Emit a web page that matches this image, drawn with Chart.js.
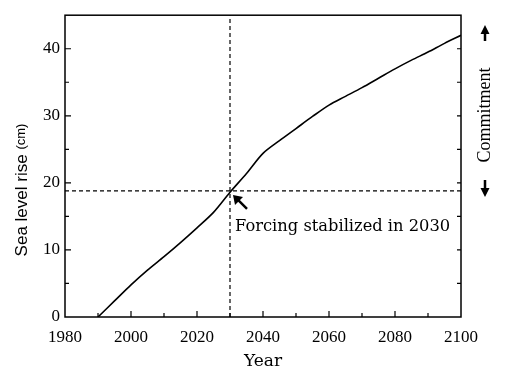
<!DOCTYPE html>
<html>
<head>
<meta charset="utf-8">
<script src="https://cdn.jsdelivr.net/npm/chart.js@4"></script>
<style>
  html, body { margin: 0; padding: 0; background: #fff; }
</style>
</head>
<body>
<canvas id="myChart" width="507" height="383"></canvas>
<script>
// Sea level rise curve
const years = [1990, 1995, 2000, 2005, 2010, 2015, 2020, 2025, 2030, 2035, 2040, 2045,
  2050, 2055, 2060, 2065, 2070, 2075, 2080, 2085, 2090, 2095, 2100];
const seaLevel = [0, 2.4, 4.8, 7.0, 9.0, 11.1, 13.3, 15.6, 18.6, 21.4, 24.4, 26.3,
  28.1, 29.9, 31.6, 32.9, 34.2, 35.6, 37.0, 38.3, 39.5, 40.8, 42.0];

// reference lines
const forcingYear = 2030;
const forcingLevel = 18.8;

const xTicks = [1980, 2000, 2020, 2040, 2060, 2080, 2100];
const yTicks = [0, 10, 20, 30, 40];
const xRange = [1980, 2100];
const yRange = [0, 45];

const serif = '"Liberation Serif", "DejaVu Serif", serif';
const wideSerif = '"DejaVu Serif", serif';

function zipxy(xs, ys) {
  const out = [];
  for (let i = 0; i < xs.length; i++) out.push({x: xs[i], y: ys[i]});
  return out;
}

// Box, inward ticks, titles and the annotations
const decorations = {
  id: 'decorations',
  afterDraw(chart) {
    const {ctx, chartArea: a, scales: {x, y}} = chart;
    ctx.save();
    ctx.strokeStyle = '#000';
    ctx.fillStyle = '#000';
    ctx.lineWidth = 1.5;
    ctx.strokeRect(a.left, a.top, a.right - a.left, a.bottom - a.top);

    ctx.lineWidth = 1.2;
    ctx.beginPath();
    for (let v = xRange[0] + 10; v < xRange[1]; v += 10) {
      const px = x.getPixelForValue(v);
      const len = v % 20 === 0 ? 6 : 4;
      ctx.moveTo(px, a.bottom);
      ctx.lineTo(px, a.bottom - len);
    }
    for (let v = yRange[0] + 5; v < yRange[1]; v += 5) {
      const py = y.getPixelForValue(v);
      const len = v % 10 === 0 ? 6 : 4;
      ctx.moveTo(a.left, py);
      ctx.lineTo(a.left + len, py);
      ctx.moveTo(a.right, py);
      ctx.lineTo(a.right - 4, py);
    }
    ctx.stroke();

    // y title with small "(cm)"
    ctx.save();
    ctx.translate(22, 190);
    ctx.rotate(-Math.PI / 2);
    ctx.textBaseline = 'middle';
    ctx.textAlign = 'left';
    const mainFont = '17px "Liberation Sans", sans-serif';
    const smallFont = '13px "Liberation Sans", sans-serif';
    const main = 'Sea level rise ';
    ctx.font = mainFont;
    const w1 = ctx.measureText(main).width;
    ctx.font = smallFont;
    const w2 = ctx.measureText('(cm)').width;
    const start = -(w1 + w2) / 2;
    ctx.font = mainFont;
    ctx.fillText(main, start, 0);
    ctx.font = smallFont;
    ctx.fillText('(cm)', start + w1, -1);
    ctx.restore();

    // Commitment with arrows
    const cx = 485;
    ctx.save();
    ctx.translate(cx, 115);
    ctx.rotate(-Math.PI / 2);
    ctx.font = '18px ' + serif;
    ctx.textAlign = 'center';
    ctx.textBaseline = 'middle';
    ctx.fillText('Commitment', 0, 0);
    ctx.restore();
    ctx.lineWidth = 2.5;
    ctx.beginPath();
    ctx.moveTo(cx, 41); ctx.lineTo(cx, 32);
    ctx.moveTo(cx, 180); ctx.lineTo(cx, 189);
    ctx.stroke();
    ctx.beginPath();
    ctx.moveTo(cx, 25); ctx.lineTo(cx - 4.5, 34); ctx.lineTo(cx + 4.5, 34); ctx.closePath();
    ctx.moveTo(cx, 197); ctx.lineTo(cx - 4.5, 188); ctx.lineTo(cx + 4.5, 188); ctx.closePath();
    ctx.fill();

    // annotation arrow
    const tx = x.getPixelForValue(forcingYear) + 3;
    const ty = y.getPixelForValue(forcingLevel) + 4;
    ctx.lineWidth = 2.5;
    ctx.beginPath();
    ctx.moveTo(tx + 5, ty + 5);
    ctx.lineTo(tx + 14, ty + 14);
    ctx.stroke();
    ctx.beginPath();
    ctx.moveTo(tx, ty);
    ctx.lineTo(tx + 10, ty + 2);
    ctx.lineTo(tx + 2, ty + 10);
    ctx.closePath();
    ctx.fill();

    ctx.font = '16.3px ' + wideSerif;
    ctx.textAlign = 'left';
    ctx.textBaseline = 'alphabetic';
    ctx.fillText('Forcing stabilized in 2030', x.getPixelForValue(forcingYear) + 5, 231);
    ctx.restore();
  }
};

const data = {
  datasets: [{
    label: 'Sea level rise',
    data: zipxy(years, seaLevel),
    borderColor: '#000',
    borderWidth: 1.6,
    pointRadius: 0,
    tension: 0.3,
    fill: false
  }, {
    label: 'forcing year',
    data: [{x: forcingYear, y: yRange[0]}, {x: forcingYear, y: yRange[1]}],
    borderColor: '#000',
    borderWidth: 1.2,
    borderDash: [4, 3],
    pointRadius: 0
  }, {
    label: 'forcing level',
    data: [{x: xRange[0], y: forcingLevel}, {x: xRange[1], y: forcingLevel}],
    borderColor: '#000',
    borderWidth: 1.2,
    borderDash: [4, 3],
    pointRadius: 0
  }]
};

const config = {
  type: 'line',
  data: data,
  options: {
    responsive: false,
    animation: false,
    layout: {padding: {left: 0, right: 46, top: 15, bottom: 0}},
    plugins: {legend: {display: false}, tooltip: {enabled: false}},
    scales: {
      x: {
        type: 'linear',
        min: xRange[0],
        max: xRange[1],
        afterBuildTicks: s => { s.ticks = xTicks.map(v => ({value: v})); },
        afterFit: s => { s.height = 66; },
        grid: {display: false, drawTicks: false},
        border: {display: false},
        ticks: {
          color: '#000',
          padding: 10,
          maxRotation: 0,
          font: {family: serif, size: 17},
          callback: v => String(v)
        },
        title: {
          display: true,
          text: 'Year',
          color: '#000',
          padding: {top: 0, bottom: 11},
          font: {family: wideSerif, size: 17}
        }
      },
      y: {
        type: 'linear',
        min: yRange[0],
        max: yRange[1],
        afterBuildTicks: s => { s.ticks = yTicks.map(v => ({value: v})); },
        afterFit: s => { s.width = 65; },
        grid: {display: false, drawTicks: false},
        border: {display: false},
        ticks: {
          color: '#000',
          padding: 5,
          font: {family: serif, size: 17},
          callback: v => String(v)
        }
      }
    }
  },
  plugins: [decorations]
};

new Chart(document.getElementById('myChart'), config);
</script>
</body>
</html>
